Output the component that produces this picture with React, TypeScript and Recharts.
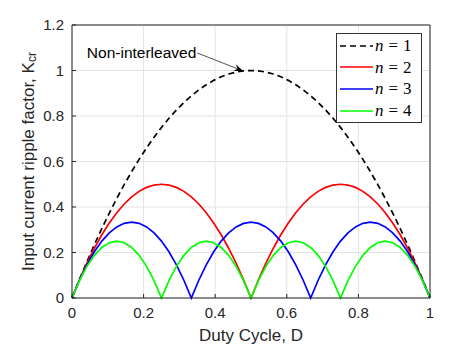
import React from 'react';
import { LineChart, Line, XAxis, YAxis, CartesianGrid, Legend, ReferenceLine } from 'recharts';

const D = [0, 0.0208, 0.0417, 0.0625, 0.0833, 0.1042, 0.125, 0.1458, 0.1667, 0.1875, 0.2083, 0.2292, 0.25, 0.2708, 0.2917, 0.3125, 0.3333, 0.3542, 0.375, 0.3958, 0.4167, 0.4375, 0.4583, 0.4792, 0.5, 0.5208, 0.5417, 0.5625, 0.5833, 0.6042, 0.625, 0.6458, 0.6667, 0.6875, 0.7083, 0.7292, 0.75, 0.7708, 0.7917, 0.8125, 0.8333, 0.8542, 0.875, 0.8958, 0.9167, 0.9375, 0.9583, 0.9792, 1];

const K1 = [0, 0.0816, 0.1597, 0.2344, 0.3056, 0.3733, 0.4375, 0.4983, 0.5556, 0.6094, 0.6597, 0.7066, 0.75, 0.7899, 0.8264, 0.8594, 0.8889, 0.9149, 0.9375, 0.9566, 0.9722, 0.9844, 0.9931, 0.9983, 1, 0.9983, 0.9931, 0.9844, 0.9722, 0.9566, 0.9375, 0.9149, 0.8889, 0.8594, 0.8264, 0.7899, 0.75, 0.7066, 0.6597, 0.6094, 0.5556, 0.4983, 0.4375, 0.3733, 0.3056, 0.2344, 0.1597, 0.0816, 0];

const K2 = [0, 0.0799, 0.1528, 0.2188, 0.2778, 0.3299, 0.375, 0.4132, 0.4444, 0.4688, 0.4861, 0.4965, 0.5, 0.4965, 0.4861, 0.4688, 0.4444, 0.4132, 0.375, 0.3299, 0.2778, 0.2188, 0.1528, 0.0799, 0, 0.0799, 0.1528, 0.2188, 0.2778, 0.3299, 0.375, 0.4132, 0.4444, 0.4688, 0.4861, 0.4965, 0.5, 0.4965, 0.4861, 0.4688, 0.4444, 0.4132, 0.375, 0.3299, 0.2778, 0.2188, 0.1528, 0.0799, 0];

const K3 = [0, 0.0781, 0.1458, 0.2031, 0.25, 0.2865, 0.3125, 0.3281, 0.3333, 0.3281, 0.3125, 0.2865, 0.25, 0.2031, 0.1458, 0.0781, 0, 0.0781, 0.1458, 0.2031, 0.25, 0.2865, 0.3125, 0.3281, 0.3333, 0.3281, 0.3125, 0.2865, 0.25, 0.2031, 0.1458, 0.0781, 0, 0.0781, 0.1458, 0.2031, 0.25, 0.2865, 0.3125, 0.3281, 0.3333, 0.3281, 0.3125, 0.2865, 0.25, 0.2031, 0.1458, 0.0781, 0];

const K4 = [0, 0.0764, 0.1389, 0.1875, 0.2222, 0.2431, 0.25, 0.2431, 0.2222, 0.1875, 0.1389, 0.0764, 0, 0.0764, 0.1389, 0.1875, 0.2222, 0.2431, 0.25, 0.2431, 0.2222, 0.1875, 0.1389, 0.0764, 0, 0.0764, 0.1389, 0.1875, 0.2222, 0.2431, 0.25, 0.2431, 0.2222, 0.1875, 0.1389, 0.0764, 0, 0.0764, 0.1389, 0.1875, 0.2222, 0.2431, 0.25, 0.2431, 0.2222, 0.1875, 0.1389, 0.0764, 0];

const X_TICKS = [0, 0.2, 0.4, 0.6, 0.8, 1];
const Y_TICKS = [0, 0.2, 0.4, 0.6, 0.8, 1, 1.2];

const SERIES = [
  { key: 'n1', n: '1', color: '#000000', dash: '6 4' },
  { key: 'n2', n: '2', color: '#ff0000', dash: undefined },
  { key: 'n3', n: '3', color: '#0000ff', dash: undefined },
  { key: 'n4', n: '4', color: '#00ff00', dash: undefined },
];

const ANNOTATION_TEXT = 'Non-interleaved';
const ANNOTATION_FROM = { x: 0.35, y: 1.077 };
const ANNOTATION_TO = { x: 0.478, y: 0.998 };

const data = D.map((d, i) => ({ D: d, n1: K1[i], n2: K2[i], n3: K3[i], n4: K4[i] }));

const AXIS = '#262626';
const FONT = '"Liberation Sans", Arial, Helvetica, sans-serif';

const LegendBox = () => (
  <div
    style={{
      width: 86,
      height: 90,
      boxSizing: 'border-box',
      border: '1px solid #333',
      background: '#fff',
      paddingTop: 1,
    }}
  >
    {SERIES.map((s) => (
      <div key={s.key} style={{ display: 'flex', alignItems: 'center', height: 21.6 }}>
        <svg width={37} height={4} style={{ display: 'block', flex: 'none' }}>
          <line x1={3} x2={36} y1={2} y2={2} stroke={s.color} strokeWidth={1.7} strokeDasharray={s.dash} />
        </svg>
        <span
          style={{
            fontFamily: '"Liberation Serif", "Times New Roman", serif',
            fontSize: 17,
            marginLeft: 1,
            color: '#000',
            whiteSpace: 'pre',
            lineHeight: '21px',
          }}
        >
          <i>n</i>
          <span style={{ margin: '0 5px' }}>=</span>
          {s.n}
        </span>
      </div>
    ))}
  </div>
);

const ArrowShape = (props: any) => {
  const { x1, y1, x2, y2 } = props;
  if ([x1, y1, x2, y2].some((v) => typeof v !== 'number' || isNaN(v))) return null;
  const ang = Math.atan2(y2 - y1, x2 - x1);
  const L = 9;
  const W = 3.5;
  const bx = x2 - L * Math.cos(ang);
  const by = y2 - L * Math.sin(ang);
  const px = -Math.sin(ang);
  const py = Math.cos(ang);
  const pts = `${x2},${y2} ${bx + W * px},${by + W * py} ${bx + 3 * Math.cos(ang)},${by + 3 * Math.sin(ang)} ${bx - W * px},${by - W * py}`;
  return (
    <g>
      <line x1={x1} y1={y1} x2={x2} y2={y2} stroke="#262626" strokeWidth={0.8} />
      <polygon points={pts} fill="#000" />
      <text
        x={x1 - 1}
        y={y1}
        textAnchor="end"
        dominantBaseline="central"
        fontFamily={FONT}
        fontSize={15.5}
        fill="#000"
      >
        {ANNOTATION_TEXT}
      </text>
    </g>
  );
};

const YLabel = (props: any) => {
  const vb = props.viewBox || { x: 0, y: 25, width: 72, height: 273 };
  const cx = vb.x + 28;
  const cy = vb.y + vb.height / 2;
  return (
    <text
      x={cx}
      y={cy}
      transform={`rotate(-90 ${cx} ${cy})`}
      textAnchor="middle"
      dominantBaseline="central"
      fontFamily={FONT}
      fontSize={17}
      fill="#262626"
    >
      Input current ripple factor, K
      <tspan fontSize={12} dy={4}>cr</tspan>
    </text>
  );
};

const XLabel = (props: any) => {
  const vb = props.viewBox || { x: 72, y: 298, width: 358, height: 55 };
  const cx = vb.x + vb.width / 2;
  const cy = vb.y + 37;
  return (
    <text x={cx} y={cy} textAnchor="middle" dominantBaseline="central" fontFamily={FONT} fontSize={17} fill="#262626">
      Duty Cycle, D
    </text>
  );
};

export default function App() {
  return (
    <div style={{ position: 'absolute', left: 0, top: 0, width: 474, height: 353, background: '#fff' }}>
      <LineChart width={474} height={353} data={data} margin={{ top: 24, right: 43, bottom: 0, left: 0 }}>
        <CartesianGrid stroke="#e4e4e4" strokeWidth={1} />
        <XAxis
          dataKey="D"
          type="number"
          domain={[0, 1]}
          ticks={X_TICKS}
          interval={0}
          height={55}
          stroke={AXIS}
          tickSize={-4}
          tickMargin={13}
          tick={{ fill: AXIS, fontSize: 15, fontFamily: FONT }}
          label={<XLabel />}
        />
        <XAxis
          xAxisId="top"
          orientation="top"
          dataKey="D"
          type="number"
          domain={[0, 1]}
          ticks={X_TICKS}
          interval={0}
          height={1}
          stroke={AXIS}
          tickSize={-4}
          tick={false}
        />
        <YAxis
          type="number"
          domain={[0, 1.2]}
          ticks={Y_TICKS}
          interval={0}
          width={72}
          stroke={AXIS}
          tickSize={-4}
          tickMargin={12}
          tick={{ fill: AXIS, fontSize: 15, fontFamily: FONT }}
          label={<YLabel />}
        />
        <YAxis
          yAxisId="right"
          orientation="right"
          type="number"
          domain={[0, 1.2]}
          ticks={Y_TICKS}
          interval={0}
          width={1}
          stroke={AXIS}
          tickSize={-4}
          tick={false}
        />
        {SERIES.map((s) => (
          <Line
            key={s.key}
            dataKey={s.key}
            type="linear"
            stroke={s.color}
            strokeWidth={1.7}
            strokeDasharray={s.dash}
            dot={false}
            activeDot={false}
            isAnimationActive={false}
          />
        ))}
        <ReferenceLine
          segment={[ANNOTATION_FROM, ANNOTATION_TO]}
          shape={ArrowShape}
          ifOverflow="visible"
        />
        <Legend
          layout="vertical"
          align="center"
          verticalAlign="middle"
          content={<LegendBox />}
          wrapperStyle={{ left: 336, top: 33, width: 86, height: 90 }}
        />
      </LineChart>
    </div>
  );
}
